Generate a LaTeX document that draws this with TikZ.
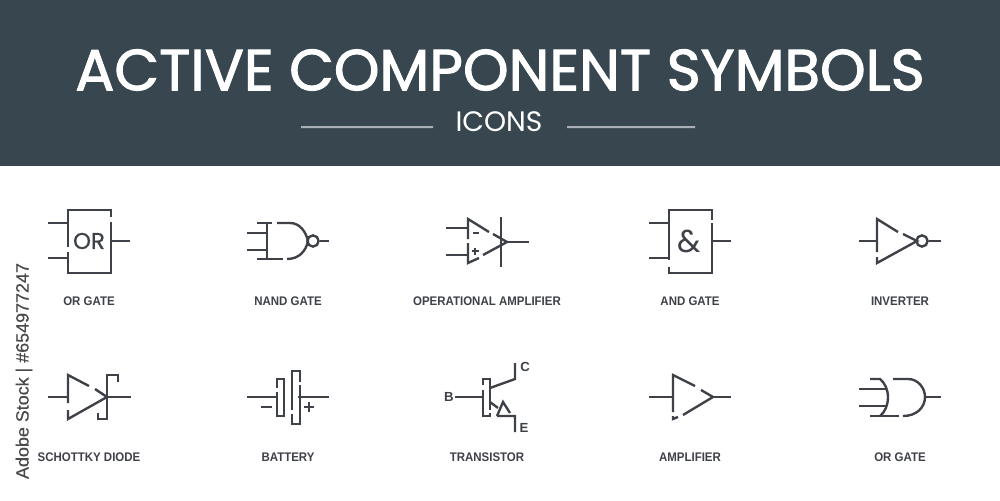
\documentclass[tikz,border=0pt]{standalone}
\usepackage{fontspec}
\setmainfont{Poppins}
\newfontfamily\labelfont[FakeStretch=0.92,BoldFont=Liberation Sans Bold]{Liberation Sans}
\newfontfamily\sidefont{Liberation Sans}
\definecolor{hdr}{HTML}{38474F}
\definecolor{ink}{HTML}{3F4149}
\definecolor{rulec}{HTML}{A9AFB4}
\definecolor{sidegray}{HTML}{4A4A4A}
\tikzset{
  sym/.style={draw=ink,line width=1.35pt,line cap=butt,line join=miter},
  bubble/.style={circle,draw=ink,line width=1.35pt,minimum size=6.4pt,inner sep=0pt},
  caplabel/.style={text=ink,font=\labelfont\bfseries\fontsize{7.1pt}{8pt}\selectfont,inner sep=0pt,anchor=center},
  glyph/.style={text=ink,inner sep=0pt,anchor=center},
  pinlabel/.style={text=ink,inner sep=0pt,anchor=center,font=\sidefont\bfseries\fontsize{7.5pt}{8pt}\selectfont},
}
\begin{document}
\begin{tikzpicture}[x=0.02cm,y=-0.02cm]
\useasboundingbox (0,0) rectangle (1000,500);
\fill[white] (0,0) rectangle (1000,500);
\fill[hdr] (0,0) rectangle (1000,166);
% header
\node[text=white,inner sep=0pt,font=\fontsize{33pt}{35pt}\selectfont\addfontfeature{FakeBold=1.7}] (title) at (500,70) {ACTIVE COMPONENT SYMBOLS};
\node[text=white,inner sep=0pt,font=\fontsize{16pt}{17pt}\selectfont] (sub) at (499,122) {ICONS};
\fill[rulec] (301,126) rectangle (433,128) (567,126) rectangle (695,128);
% side text
\node[text=sidegray,rotate=90,inner sep=0pt,font=\sidefont\fontsize{10.2pt}{11pt}\selectfont\addfontfeature{FakeBold=0.4}] (side) at (24,371) {Adobe Stock | \#654977247};
% OR gate
\draw[sym] (111,217) -- (111,210) -- (68,210) -- (68,247);
\draw[sym] (68,252) -- (68,273) -- (111,273) -- (111,222);
\draw[sym] (48,223) -- (68,223) (48,258) -- (68,258) (111,241) -- (130,241);
\node[glyph,font=\fontsize{13pt}{14pt}\selectfont\addfontfeature{FakeBold=0.8}] (ortxt) at (89,241) {OR};
\node[caplabel] (c1) at (89,301) {OR GATE};
% NAND gate
\draw[sym] (257,223) -- (272,223) (267,223) -- (267,259) (257,259) -- (283,259);
\draw[sym] (247,233) -- (267,233) (247,250) -- (267,250);
\draw[sym] (277,223) -- (290,223) .. controls (300,223) and (306,232) .. (308,241) .. controls (306,251) and (299,259) .. (287,259);
\node[bubble] (b1) at (313,241) {};
\draw[sym] (b1.east) -- (329,241);
\node[caplabel] (c2) at (288,301) {NAND GATE};
% Op amp
\draw[sym] (468,239) -- (468,219) -- (489,232) (493,234) -- (507,242) -- (483,255) (479,258) -- (468,263) -- (468,243);
\draw[sym] (446,228) -- (468,228) (446,255) -- (468,255) (507,242) -- (529,242) (501,217) -- (501,267);
\draw[sym] (473,233) -- (479,233) (471.5,251) -- (478.5,251) (475,247.5) -- (475,254.5);
\node[caplabel] (c3) at (487,301) {OPERATIONAL AMPLIFIER};
% AND gate
\draw[sym] (712,220) -- (712,210) -- (669,210) -- (669,260);
\draw[sym] (669,267) -- (669,273) -- (712,273) -- (712,223);
\draw[sym] (649,223) -- (669,223) (649,258) -- (669,258) (712,241) -- (731,241);
\node[glyph,font=\fontsize{18pt}{19pt}\selectfont] (amp) at (689,241) {\&};
\node[caplabel] (c4) at (690,301) {AND GATE};
% Inverter
\draw[sym] (877,252) -- (877,219) -- (898,232) (903,234) -- (917,241) -- (877,263) -- (877,257);
\draw[sym] (859,241) -- (877,241);
\node[bubble] (b2) at (922,241) {};
\draw[sym] (b2.east) -- (941,241);
\node[caplabel] (c5) at (900,301) {INVERTER};
% Schottky
\draw[sym] (68,403) -- (68,375) -- (89,386) (95,389) -- (107,397) -- (68,419) -- (68,410);
\draw[sym] (48,397) -- (68,397) (107,397) -- (131,397);
\draw[sym] (118,382) -- (118,375) -- (107,375) -- (107,419) -- (98,419) -- (98,413);
\node[caplabel] (c6) at (89,457) {SCHOTTKY DIODE};
% Battery
\draw[sym] (247,397) -- (277,397) (298,397) -- (329,397);
\draw[sym] (277,388) -- (277,379) -- (284,379) -- (284,416) -- (277,416) -- (277,392);
\draw[sym] (300,382) -- (300,371) -- (292,371) -- (292,410) (292,414) -- (292,424) -- (300,424) -- (300,385);
\draw[sym] (261,407) -- (272,407) (304,407) -- (314,407) (309,402) -- (309,412);
\node[caplabel] (c7) at (288,457) {BATTERY};
% Transistor
\draw[sym] (483,385) -- (483,379) -- (490,379) -- (490,410) (490,413) -- (490,416) -- (483,416) -- (483,390);
\draw[sym] (455,397) -- (483,397);
\draw[sym] (490,388) -- (515,379) -- (515,363);
\draw[sym] (490,402) -- (498,408);
\draw[sym] (497,416) -- (503,402) -- (510,413) (497,416) -- (515,416) -- (515,432);
\node[pinlabel] (tb) at (449,397) {B};
\node[pinlabel] (tc) at (525,367) {C};
\node[pinlabel] (te) at (524,428) {E};
\node[caplabel] (c8) at (487,457) {TRANSISTOR};
% Amplifier
\draw[sym] (673,412) -- (673,375) -- (695,386) (701,390) -- (713,397) -- (683,415) (678,417) -- (673,419) -- (673,416);
\draw[sym] (649,397) -- (673,397) (713,397) -- (731,397);
\node[caplabel] (c9) at (690,457) {AMPLIFIER};
% OR gate 2
\draw[sym] (870,379) -- (880,379) .. controls (885,383) and (888,390) .. (888,397) .. controls (888,405) and (885,412) .. (880,416);
\draw[sym] (870,416) -- (899,416) (859,389) -- (887,389) (859,406) -- (887,406);
\draw[sym] (893,379) -- (908,379) .. controls (918,379) and (925,388) .. (925,397) .. controls (925,407) and (917,416) .. (903,416);
\draw[sym] (925,397) -- (941,397);
\node[caplabel] (c10) at (900,457) {OR GATE};
\end{tikzpicture}
\end{document}
